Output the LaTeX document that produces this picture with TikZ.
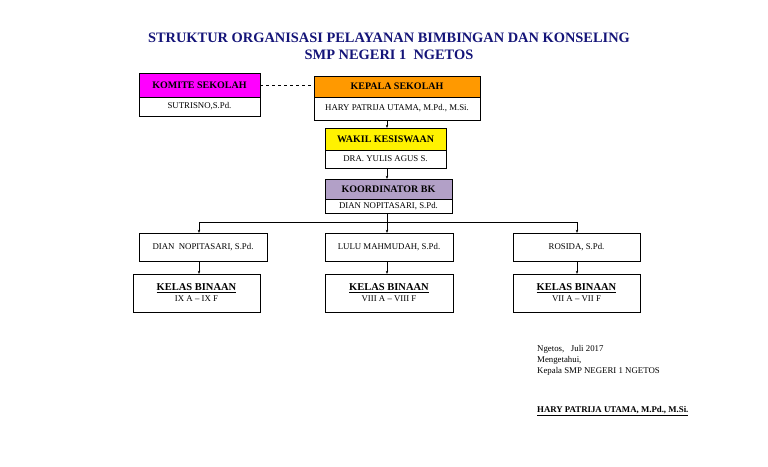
\documentclass[tikz,border=0pt]{standalone}
\usepackage{fontspec}
\setmainfont{Liberation Serif}
\usetikzlibrary{arrows.meta}
\definecolor{navy}{RGB}{20,20,120}
\definecolor{mag}{RGB}{255,0,255}
\definecolor{org}{RGB}{255,153,0}
\definecolor{lav}{RGB}{178,160,199}
\begin{document}
\begin{tikzpicture}[x=1pt,y=-1pt,
  hdr/.style={draw,thin,font=\fontsize{10}{11}\selectfont\bfseries,inner sep=0pt},
  sub/.style={draw,thin,fill=white,font=\fontsize{8.8}{9}\selectfont,inner sep=0pt},
  arr/.style={-{Stealth[length=3pt,width=2.5pt]},thin}]
\useasboundingbox (0,0) rectangle (768,466);
\node[font=\fontsize{14.4}{15}\selectfont\bfseries,text=navy] (t1) at (389,38) {STRUKTUR ORGANISASI PELAYANAN BIMBINGAN DAN KONSELING};
\node[font=\fontsize{14.4}{15}\selectfont\bfseries,text=navy] (t2) at (389,55) {SMP NEGERI 1\ \ NGETOS};
% komite
\node[hdr,fill=mag,minimum width=121pt,minimum height=24pt] (kh) at (199.5,85) {KOMITE SEKOLAH};
\node[sub,minimum width=121pt,minimum height=19pt] (ks) at (199.5,106.5) {SUTRISNO,S.Pd.};
% kepala
\node[hdr,fill=org,minimum width=166pt,minimum height=21pt] (ph) at (397,86.5) {KEPALA SEKOLAH};
\node[sub,minimum width=166pt,minimum height=23pt] (ps) at (397,108.5) {HARY PATRIJA UTAMA, M.Pd., M.Si.};
% wakil
\node[hdr,fill=yellow,minimum width=121pt,minimum height=22pt] (wh) at (385.5,139) {WAKIL KESISWAAN};
\node[sub,minimum width=121pt,minimum height=18pt] (ws) at (385.5,159) {DRA. YULIS AGUS S.};
% koordinator
\node[hdr,fill=lav,minimum width=127pt,minimum height=20pt] (kbh) at (388.5,189) {KOORDINATOR BK};
\node[sub,minimum width=127pt,minimum height=14pt] (kbs) at (388.5,206) {DIAN NOPITASARI, S.Pd.};
\draw[dashed,thin] (kh.east) -- (ph.west |- kh.east);
\draw[arr] (ps.south -| 387,0) -- (wh.north -| 387,0);
\draw[arr] (ws.south -| 387,0) -- (kbh.north -| 387,0);
% row
\node[sub,minimum width=128pt,minimum height=28pt] (g1) at (203,247) {DIAN\ \ NOPITASARI, S.Pd.};
\node[sub,minimum width=128pt,minimum height=28pt] (g2) at (389,247) {LULU MAHMUDAH, S.Pd.};
\node[sub,minimum width=127pt,minimum height=28pt] (g3) at (576.5,247) {ROSIDA, S.Pd.};
\tikzset{kb/.style={sub,minimum height=38pt,align=center,font=\fontsize{8.8}{11}\selectfont}}
\newcommand\kbtext[1]{{\fontsize{10.5}{11}\selectfont\bfseries\underline{KELAS BINAAN}}\\ #1}
\node[kb,minimum width=127pt] (c1) at (196.5,293) {\kbtext{IX A -- IX F}};
\node[kb,minimum width=128pt] (c2) at (389,293) {\kbtext{VIII A -- VIII F}};
\node[kb,minimum width=127pt] (c3) at (576.5,293) {\kbtext{VII A -- VII F}};
\coordinate (j) at (387,222);
\draw[thin] (kbs.south -| j) -- (j);
\draw[arr] (j) -| (199,0 |- g1.north);
\draw[arr] (j) -- (387,0 |- g2.north);
\draw[arr] (j) -| (577,0 |- g3.north);
\draw[arr] (199,0 |- g1.south) -- (199,0 |- c1.north);
\draw[arr] (387,0 |- g2.south) -- (387,0 |- c2.north);
\draw[arr] (577,0 |- g3.south) -- (577,0 |- c3.north);
% footer
\node[anchor=north west,font=\fontsize{8.8}{11}\selectfont,align=left,inner sep=0pt] (f) at (537,345) {Ngetos,\ \ \ Juli 2017\\Mengetahui,\\Kepala SMP NEGERI 1 NGETOS};
\node[anchor=west,font=\fontsize{8.8}{9}\selectfont\bfseries,inner sep=0pt] (sg) at (537,411) {\underline{HARY PATRIJA UTAMA, M.Pd., M.Si.}};
\end{tikzpicture}
\end{document}
